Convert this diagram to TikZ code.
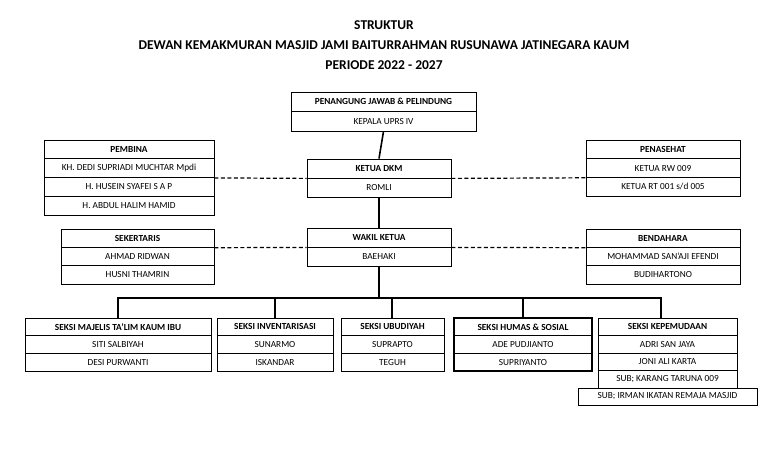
\documentclass[tikz,border=0pt]{standalone}
\usepackage{fontspec}
\setmainfont{Carlito}
\tikzset{cell/.style={draw,line width=0.8pt,inner sep=0pt,font=\fontsize{9.3}{11}\selectfont},
 link/.style={line width=1.6pt},
 dlink/.style={line width=1.2pt,dash pattern=on 4pt off 2.5pt}}
\newcommand\obox[7][]{%
 \pgfmathsetmacro\ow{#4-#3}\pgfmathsetmacro\ocx{(#3+#4)/2}%
 \foreach \t [count=\i] in {#7}{%
  \pgfmathsetmacro\ocy{#5+(\i-0.5)*#6}%
  \node[cell,#1,minimum width=\ow pt,minimum height=#6 pt] (#2-\i) at (\ocx,\ocy) {\ifnum\i=1 \bfseries\fi\t};}}
\begin{document}
\begin{tikzpicture}[x=1pt,y=-1pt]
\useasboundingbox (0,0) rectangle (768,466);
\node[font=\bfseries\fontsize{13.5}{15}\selectfont] (t1) at (384,25) {STRUKTUR};
\node[font=\bfseries\fontsize{13.5}{15}\selectfont] (t2) at (384,45) {DEWAN KEMAKMURAN MASJID JAMI BAITURRAHMAN RUSUNAWA JATINEGARA KAUM};
\node[font=\bfseries\fontsize{13.5}{15}\selectfont] (t3) at (384,65) {PERIODE 2022 - 2027};
\obox{pj}{291}{476}{92}{19.5}{PENANGUNG JAWAB \& PELINDUNG,KEPALA UPRS IV}
\obox{ketua}{307}{451}{159}{19}{KETUA DKM,ROMLI}
\obox{wakil}{307}{451}{228}{19}{WAKIL KETUA,BAEHAKI}
\obox{pembina}{44}{214}{140}{18.75}{PEMBINA,KH. DEDI SUPRIADI MUCHTAR Mpdi,H. HUSEIN SYAFEI S A P,H. ABDUL HALIM HAMID}
\obox{sek}{61}{214}{229}{18.3}{SEKERTARIS,AHMAD RIDWAN,HUSNI THAMRIN}
\obox{pen}{586}{740}{140}{18.7}{PENASEHAT,KETUA RW 009,KETUA RT 001 s/d 005}
\obox{ben}{586}{740}{229}{18.3}{BENDAHARA,MOHAMMAD SAN'AJI EFENDI,BUDIHARTONO}
\obox{maj}{25}{211}{318}{17.7}{SEKSI MAJELIS TA'LIM KAUM IBU,SITI SALBIYAH,DESI PURWANTI}
\obox{inv}{217}{333}{318}{17.7}{SEKSI INVENTARISASI,SUNARMO,ISKANDAR}
\obox{ubu}{341}{444}{318}{17.7}{SEKSI UBUDIYAH,SUPRAPTO,TEGUH}
\obox[line width=1.4pt]{hum}{454}{592}{318}{17.7}{SEKSI HUMAS \& SOSIAL,ADE PUDJIANTO,SUPRIYANTO}
\obox{kep}{598}{737}{318}{17.5}{SEKSI KEPEMUDAAN,ADRI SAN JAYA,JONI ALI KARTA,SUB; KARANG TARUNA 009}
\node[cell,minimum width=179pt,minimum height=17pt] (irman) at (667.5,396.5) {SUB; IRMAN IKATAN REMAJA MASJID};
\draw[link] (pj-2.south) -- (ketua-1.north);
\draw[link] (ketua-2.south) -- (wakil-1.north);
\coordinate (bus) at (379,298);
\draw[link] (wakil-2.south) -- (bus);
\draw[link] (maj-1.north -| 118,0) |- (bus) -| (kep-1.north -| 661,0);
\draw[link] (inv-1.north -| 275,0) -- (275,298);
\draw[link] (ubu-1.north -| 392,0) -- (392,298);
\draw[link] (hum-1.north -| 523,0) -- (523,298);
\draw[dlink] (pembina-2.south east) -- (ketua-1.south west);
\draw[dlink] (ketua-1.south east) -- (pen-2.south west);
\draw[dlink] (sek-1.south east) -- (wakil-1.south west);
\draw[dlink] (wakil-1.south east) -- (ben-1.south west);
\end{tikzpicture}
\end{document}
